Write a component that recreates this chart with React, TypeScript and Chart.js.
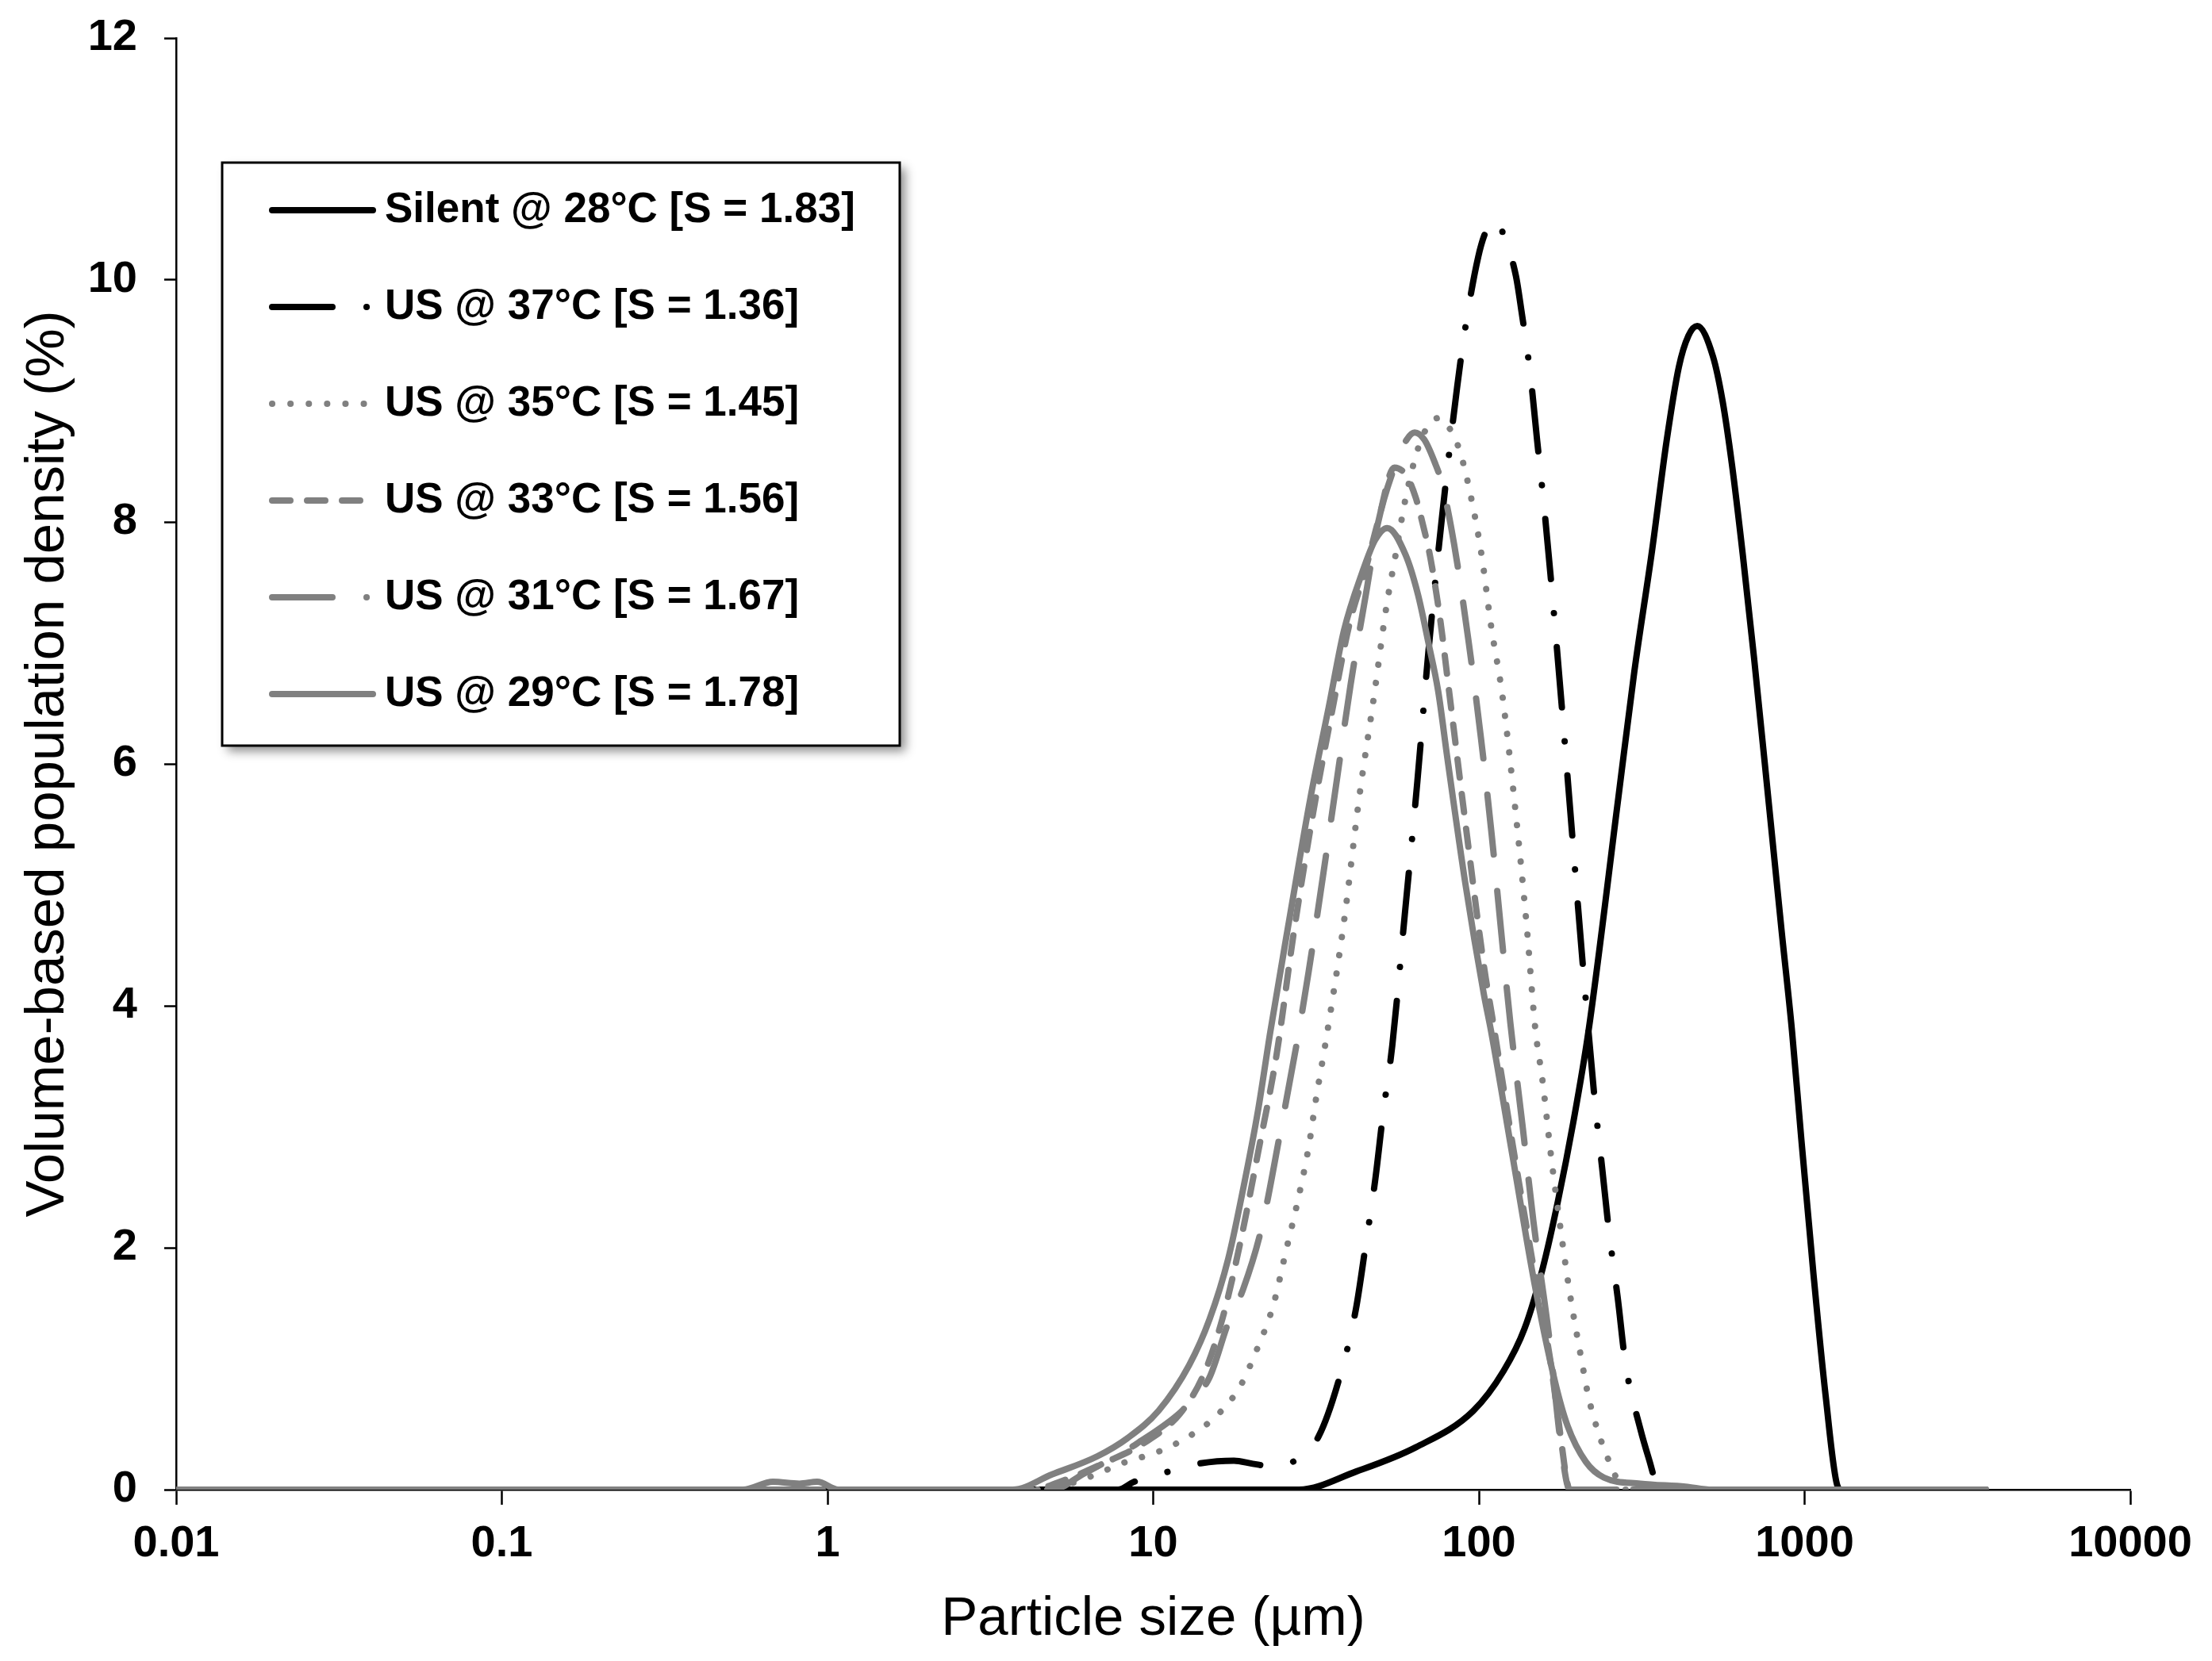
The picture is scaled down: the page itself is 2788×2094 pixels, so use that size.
import React, { useEffect, useRef } from 'react';
import { Chart, registerables } from 'chart.js';

Chart.register(...registerables);

const FONT = '"Liberation Sans", Arial, sans-serif';

const xTickValues = [0.01, 0.1, 1, 10, 100, 1000, 10000];
const xTickLabels = ['0.01', '0.1', '1', '10', '100', '1000', '10000'];
const yTickValues = [0, 2, 4, 6, 8, 10, 12];
const yTickLabels = ['0', '2', '4', '6', '8', '10', '12'];

const xTitle = 'Particle size (µm)';
const yTitle = 'Volume-based population density (%)';

const seriesLabels = [
  'Silent @ 28°C [S = 1.83]',
  'US @ 37°C [S = 1.36]',
  'US @ 35°C [S = 1.45]',
  'US @ 33°C [S = 1.56]',
  'US @ 31°C [S = 1.67]',
  'US @ 29°C [S = 1.78]',
];
const seriesColors = ['#000000', '#000000', '#808080', '#808080', '#808080', '#808080'];

// Silent @ 28°C
const silentSize = [0.01, 28, 42, 64, 96, 119, 138, 157, 175, 195, 217, 268, 300, 340, 377, 411, 440, 468, 523, 560, 598, 646, 700, 778, 850, 915, 977, 1065, 1160, 1262, 1300, 3600];
const silentValue = [0, 0, 0.15, 0.35, 0.65, 0.98, 1.33, 1.83, 2.39, 3.04, 3.79, 5.72, 6.76, 7.76, 8.67, 9.28, 9.54, 9.62, 9.37, 9.0, 8.48, 7.73, 6.87, 5.65, 4.62, 3.79, 2.9, 1.78, 0.78, 0.03, 0, 0];

// US @ 37°C
const us37Size = [0.01, 7.8, 8.7, 10.8, 13.7, 17.7, 20.2, 23.9, 27.2, 32.2, 37.6, 41.9, 44.9, 48.1, 50.8, 54.2, 59.2, 64.7, 70, 76.9, 85.7, 91.4, 99.5, 105, 112, 120, 130, 135, 144, 151, 158.5, 165.7, 179.5, 193.6, 208.9, 227, 239, 251, 267, 282, 313, 333, 356, 365, 3600];
const us37Value = [0, 0, 0.063, 0.139, 0.214, 0.24, 0.214, 0.189, 0.24, 0.44, 0.955, 1.49, 2.02, 2.57, 3.11, 3.67, 4.75, 5.85, 6.93, 8.02, 9.11, 9.65, 10.19, 10.4, 10.5, 10.35, 10.03, 9.75, 9.21, 8.67, 8.13, 7.58, 6.49, 5.4, 4.31, 3.21, 2.66, 2.13, 1.58, 1.04, 0.503, 0.25, 0.01, 0, 0];

// US @ 35°C
const us35Size = [0.01, 4.6, 5.2, 6.5, 8.2, 10.4, 13.1, 15.9, 18.5, 20.6, 23.4, 25.5, 27.8, 30, 31.7, 33.8, 38.5, 42.9, 47.7, 52, 55.6, 59.3, 64.9, 70, 75.4, 81, 87.5, 95.5, 102, 109, 118, 130, 140, 149, 157, 166, 177, 190, 207, 217, 232, 253, 281, 3600];
const us35Value = [0, 0, 0.026, 0.114, 0.227, 0.315, 0.453, 0.629, 0.855, 1.13, 1.53, 1.96, 2.39, 2.83, 3.25, 3.69, 4.69, 5.72, 6.57, 7.3, 7.74, 8.17, 8.6, 8.8, 8.86, 8.78, 8.58, 8.15, 7.72, 7.14, 6.57, 5.57, 4.68, 3.81, 3.37, 2.79, 2.21, 1.63, 1.06, 0.767, 0.483, 0.214, 0, 0];

// US @ 33°C
const us33Size = [0.01, 4.3, 5.0, 7.2, 9.3, 12.1, 14.3, 16.3, 18.5, 21, 23.9, 27, 31, 35.5, 40, 45, 49, 55, 60, 64, 67, 71, 76, 81, 92, 104, 110, 127, 148, 165, 179, 186, 190, 3600];
const us33Value = [0, 0, 0.05, 0.23, 0.38, 0.63, 0.955, 1.41, 2.04, 2.79, 3.59, 4.6, 5.6, 6.45, 7.15, 7.62, 8.0, 8.45, 8.38, 8.2, 8.0, 7.7, 7.2, 6.6, 5.4, 4.3, 3.9, 2.85, 1.8, 1.1, 0.4, 0.08, 0, 0];

// US @ 31°C
const us31Size = [0.01, 4.9, 6.1, 8.9, 12.8, 14.9, 17, 18.9, 21.5, 24.5, 27.8, 30, 33.2, 36.6, 40.4, 45.3, 49, 55, 60, 63.5, 68, 73, 77, 84, 93, 101.5, 109.5, 117, 125, 136, 147, 164, 179, 190, 3600];
const us31Value = [0, 0, 0.13, 0.38, 0.7, 0.93, 1.38, 1.66, 2.16, 2.94, 3.74, 4.28, 5.07, 5.86, 6.66, 7.45, 7.99, 8.45, 8.68, 8.74, 8.68, 8.5, 8.32, 7.81, 7.01, 6.21, 5.41, 4.62, 3.85, 3.02, 2.22, 1.28, 0.35, 0, 0];

// US @ 29°C
const us29Size = [0.01, 0.55, 0.68, 0.82, 0.93, 1.08, 3.7, 4.89, 6.75, 8.36, 10.4, 12.9, 14.9, 17, 18.9, 21, 22.9, 26.2, 30.4, 34.6, 38.5, 43.8, 48, 52.3, 59.5, 65, 70, 75, 80, 91, 103.5, 109, 127, 148, 171, 187, 213, 242, 313, 431, 520, 3600];
const us29Value = [0, 0, 0.065, 0.05, 0.065, 0, 0, 0.126, 0.277, 0.428, 0.654, 1.03, 1.41, 1.91, 2.49, 3.14, 3.79, 4.72, 5.72, 6.47, 7.1, 7.58, 7.85, 7.95, 7.73, 7.4, 7.0, 6.6, 6.05, 5.0, 4.1, 3.79, 2.75, 1.71, 0.9, 0.53, 0.23, 0.1, 0.05, 0.025, 0, 0];

const chartDashes: number[][] = [[], [76, 43, 0.1, 43], [0.1, 23], [23, 21], [76, 46], []];
const legendDashes: number[][] = [[], [76, 43, 0.1, 43], [0.1, 23], [23, 21], [76, 43, 0.1, 43], []];
const drawOrder = [11, 10, 3, 2, 1, 0];

const seriesSizes = [silentSize, us37Size, us35Size, us33Size, us31Size, us29Size];
const seriesValues = [silentValue, us37Value, us35Value, us33Value, us31Value, us29Value];

const boxLegend = {
  id: 'boxLegend',
  afterDraw(chart: any) {
    const ctx = chart.ctx as CanvasRenderingContext2D;
    const bx = 272, by = 197, bw = 854, bh = 735;
    ctx.save();
    ctx.shadowColor = 'rgba(0,0,0,0.45)';
    ctx.shadowBlur = 12;
    ctx.shadowOffsetX = 7;
    ctx.shadowOffsetY = 7;
    ctx.fillStyle = '#ffffff';
    ctx.fillRect(bx, by, bw, bh);
    ctx.restore();
    ctx.save();
    ctx.lineWidth = 3;
    ctx.strokeStyle = '#000000';
    ctx.strokeRect(bx, by, bw, bh);
    const rowY0 = 257, rowStep = 122;
    seriesLabels.forEach((label, i) => {
      const y = rowY0 + i * rowStep;
      ctx.save();
      ctx.beginPath();
      ctx.lineWidth = 8;
      ctx.lineCap = 'round';
      ctx.strokeStyle = seriesColors[i];
      ctx.setLineDash(legendDashes[i]);
      ctx.moveTo(335, y);
      ctx.lineTo(462, y);
      ctx.stroke();
      ctx.restore();
      ctx.fillStyle = '#000000';
      ctx.font = `bold 53px ${FONT}`;
      ctx.textBaseline = 'middle';
      ctx.textAlign = 'left';
      ctx.fillText(label, 477, y);
    });
    ctx.restore();
  },
};

export default function App() {
  const ref = useRef<HTMLCanvasElement | null>(null);
  useEffect(() => {
    if (!ref.current) return;
    Chart.defaults.font.family = FONT;
    const datasets = seriesLabels.map((label, i) => ({
      label,
      data: seriesSizes[i].map((x, j) => ({ x, y: seriesValues[i][j] })),
      borderColor: seriesColors[i],
      backgroundColor: seriesColors[i],
      borderWidth: 8,
      borderDash: chartDashes[i],
      borderCapStyle: 'round' as const,
      borderJoinStyle: 'round' as const,
      pointRadius: 0,
      fill: false,
      cubicInterpolationMode: 'monotone' as const,
      order: drawOrder[i],
    }));
    const chart = new Chart(ref.current, {
      type: 'line',
      data: { datasets },
      plugins: [boxLegend],
      options: {
        animation: false,
        responsive: true,
        maintainAspectRatio: false,
        layout: { padding: { left: 0, right: 95, top: 40, bottom: 0 } },
        plugins: { legend: { display: false }, tooltip: { enabled: false } },
        scales: {
          x: {
            type: 'logarithmic',
            min: 0.01,
            max: 10000,
            afterBuildTicks: (s: any) => {
              s.ticks = xTickValues.map((v) => ({ value: v }));
            },
            afterFit: (s: any) => {
              s.height = 208;
            },
            ticks: {
              autoSkip: false,
              maxRotation: 0,
              padding: 16,
              color: '#000000',
              font: { size: 56, weight: 'bold', family: FONT },
              callback: (v: any) => {
                const k = xTickValues.indexOf(Number(v));
                return k >= 0 ? xTickLabels[k] : '';
              },
            },
            grid: { drawOnChartArea: false, drawTicks: true, tickLength: 19, tickColor: '#000000', tickWidth: 2.5 },
            border: { display: true, color: '#000000', width: 2.5 },
            title: {
              display: true,
              text: xTitle,
              color: '#000000',
              font: { size: 69, weight: 'normal', family: FONT },
              padding: { top: 0, bottom: 3 },
            },
          },
          y: {
            type: 'linear',
            min: 0,
            max: 12,
            afterBuildTicks: (s: any) => {
              s.ticks = yTickValues.map((v) => ({ value: v }));
            },
            afterFit: (s: any) => {
              s.width = 214;
              s.paddingTop = 0;
              s.paddingBottom = 0;
            },
            ticks: {
              padding: 34,
              color: '#000000',
              font: { size: 56, weight: 'bold', family: FONT },
              callback: (v: any) => {
                const k = yTickValues.indexOf(Number(v));
                return k >= 0 ? yTickLabels[k] : '';
              },
            },
            grid: { drawOnChartArea: false, drawTicks: true, tickLength: 15, tickColor: '#000000', tickWidth: 2.5 },
            border: { display: true, color: '#000000', width: 2.5 },
            title: {
              display: true,
              text: yTitle,
              color: '#000000',
              font: { size: 69, weight: 'normal', family: FONT },
              padding: { top: 12, bottom: 0 },
            },
          },
        },
      },
    } as any);
    return () => chart.destroy();
  }, []);
  return (
    <div style={{ width: '2772px', height: '2078px', position: 'relative' }}>
      <canvas ref={ref} />
    </div>
  );
}
